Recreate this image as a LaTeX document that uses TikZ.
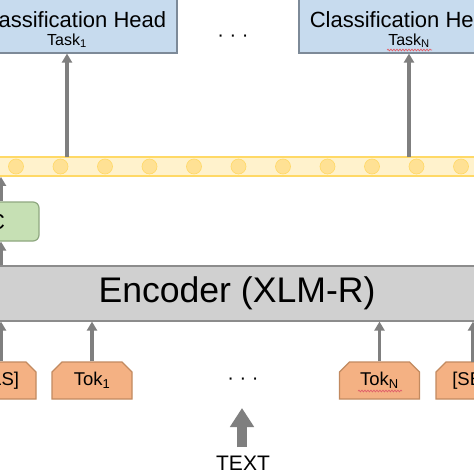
\documentclass[tikz,border=0pt]{standalone}
\usepackage{fontspec}
\setmainfont{Liberation Sans}
\usetikzlibrary{arrows.meta,shapes.misc,decorations.pathmorphing}
\definecolor{arrowgray}{HTML}{7F7F7F}
\definecolor{headfill}{HTML}{C7DBEE}
\definecolor{headdraw}{HTML}{7D8A98}
\definecolor{encfill}{HTML}{D0D0D0}
\definecolor{encdraw}{HTML}{8C8C8C}
\definecolor{barfill}{HTML}{FFF2CC}
\definecolor{bardraw}{HTML}{FFD966}
\definecolor{dotfill}{HTML}{FFE194}
\definecolor{greenfill}{HTML}{C6E0B4}
\definecolor{greendraw}{HTML}{8FA880}
\definecolor{tokfill}{HTML}{F4B183}
\definecolor{tokdraw}{HTML}{C28A60}
\definecolor{squig}{HTML}{E0606A}
\begin{document}
\begin{tikzpicture}[x=1pt,y=-1pt,
  arr/.style={draw=arrowgray, line width=3.5pt, -{Triangle[width=10pt,length=9pt]}},
  headbox/.style={draw=headdraw, fill=headfill, line width=1.2pt, minimum width=210pt, minimum height=68pt, inner sep=0pt},
  tokbox/.style={chamfered rectangle, chamfered rectangle corners={north west,north east}, chamfered rectangle xsep=4pt, chamfered rectangle ysep=6pt,
     draw=tokdraw, fill=tokfill, line width=1.2pt, minimum width=80pt, minimum height=37pt, inner sep=0pt, font=\fontsize{18.5}{20}\selectfont},
  circ/.style={circle, fill=dotfill, draw=bardraw, line width=0.6pt, minimum size=15pt, inner sep=0pt},
  squiggle/.style={draw=squig, line width=0.7pt, decorate, decoration={snake, amplitude=0.9pt, segment length=3pt}},
  dots/.style={font=\fontsize{20}{22}\selectfont}
]
\useasboundingbox (0,0) rectangle (474,474);
\fill[white] (0,0) rectangle (474,474);

% classification heads
\node[headbox] (head1) at (72,19) {};
\node[headbox] (headN) at (404,19) {};
\node[anchor=base, font=\fontsize{22}{24}\selectfont] (h1txt) at (72,27) {Classification Head};
\node[anchor=base, font=\fontsize{22}{24}\selectfont] (hNtxt) at (404,27) {Classification Head};
\node[anchor=base, font=\fontsize{16}{18}\selectfont] (task1) at (67,45) {Task\textsubscript{1}};
\node[anchor=base, font=\fontsize{16}{18}\selectfont] (taskN) at (409,45) {Task\textsubscript{N}};
\draw[squiggle] (387,50) -- (432,50);
\node[dots] (topdots) at (233,38) {· · ·};

% yellow bar
\node[draw=bardraw, fill=barfill, line width=1.8pt, minimum width=494pt, minimum height=19pt, inner sep=0pt] (bar) at (237,166.5) {};
\foreach \i in {0,...,10} {
  \node[circ] (c\i) at ({16+44.5*\i},166.5) {};
}

% arrows to heads
\coordinate (a1) at (67,157);
\coordinate (aN) at (409,157);
\draw[arr] (a1) -- (a1 |- head1.south);
\draw[arr] (aN) -- (aN |- headN.south);

% green box
\node[draw=greendraw, fill=greenfill, line width=1.2pt, rounded corners=6pt, minimum width=80pt, minimum height=39pt, inner sep=0pt] (green) at (-1,221.5) {};
\node[font=\fontsize{22}{24}\selectfont] (gtxt) at (-3,222) {C};

% encoder
\node[draw=encdraw, fill=encfill, line width=1.2pt, minimum width=494pt, minimum height=55pt, inner sep=0pt,
      font=\fontsize{35.6}{40}\selectfont] (enc) at (237,293.5) {Encoder (XLM-R)};

% left arrows
\coordinate (g0) at (1,241);
\draw[arr] (g0 |- enc.north) -- (g0 |- green.south);
\draw[arr] (g0 |- green.north) -- (g0 |- bar.south);

% tokens
\node[tokbox] (cls) at (-4,380.5) {[CLS]};
\node[tokbox] (tok1) at (92,380.5) {Tok\textsubscript{1}};
\node[tokbox] (tokN) at (379.5,380.5) {Tok\textsubscript{N}};
\node[tokbox] (sep) at (476,380.5) {[SEP]};
\draw[squiggle] (358,391) -- (402,391);

\draw[arr] (cls.north -| g0) -- (g0 |- enc.south);
\draw[arr] (tok1.north) -- (tok1 |- enc.south);
\draw[arr] (tokN.north) -- (tokN |- enc.south);
\coordinate (s0) at (473,362);
\draw[arr] (s0) -- (s0 |- enc.south);

\node[dots] (middots) at (243,381) {· · ·};

% TEXT input
\node[font=\fontsize{21}{24}\selectfont] (text) at (243,463) {TEXT};
\coordinate (tarr) at (242,447);
\draw[draw=arrowgray, line width=10pt, -{Triangle[width=23pt,length=19pt]}] (tarr) -- (242,408);
\end{tikzpicture}
\end{document}
